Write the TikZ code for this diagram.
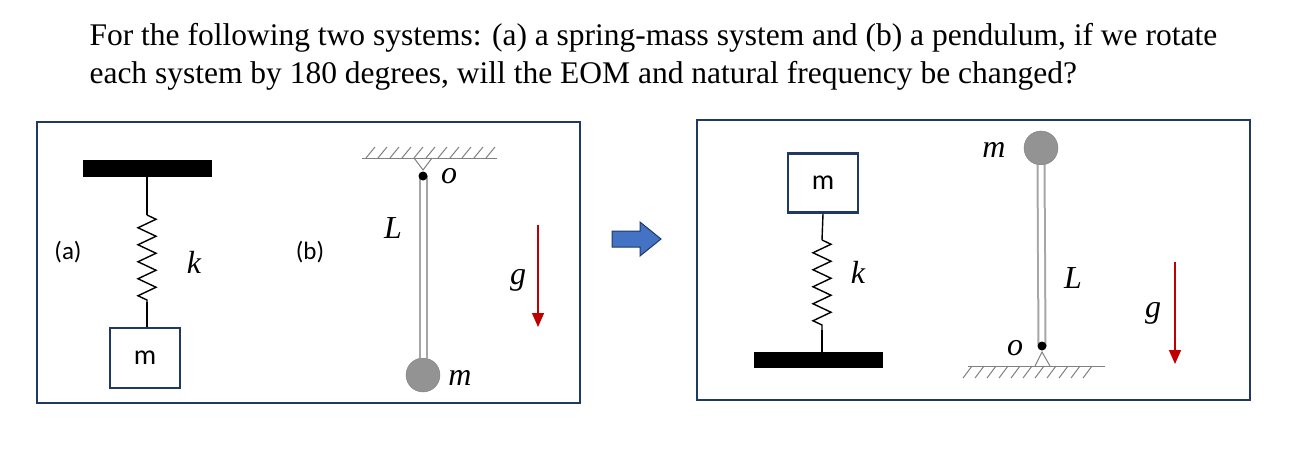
\documentclass[tikz,border=0pt]{standalone}
\usepackage{fontspec}
\setmainfont{Liberation Serif}
\newfontfamily\sansf{Carlito}
\usetikzlibrary{decorations.pathmorphing,arrows.meta}
\definecolor{navy}{HTML}{1F3864}
\definecolor{bluear}{HTML}{4472C4}
\definecolor{redar}{HTML}{C00000}
\begin{document}
\begin{tikzpicture}[x=1pt,y=-1pt,
  frame/.style={draw=navy,line width=2.4pt},
  massbox/.style={draw=navy,line width=2.8pt,minimum width=#1,inner sep=0pt,font=\sansf\fontsize{28}{28}\selectfont},
  spring/.style={decorate,decoration={zigzag,segment length=17pt,amplitude=9pt},line width=1.4pt},
  rod/.style={draw=gray!70,line width=9pt,postaction={draw=white,line width=5pt}},
  bob/.style={circle,fill=gray!85!white,draw=gray,minimum size=34pt,inner sep=0pt},
  lab/.style={font=\itshape\fontsize{32}{32}\selectfont},
  lbl/.style={font=\sansf\fontsize{25}{25}\selectfont},
  garrow/.style={draw=redar,line width=1.4pt,-{Triangle[length=14pt,width=12pt]}},
  hl/.style={draw=gray,line width=1pt}]
\useasboundingbox (0,0) rectangle (1312,464);
\node[anchor=west,align=left,font=\fontsize{31.5}{38}\selectfont] (title) at (86,57)
 {For the following two systems: (a) a spring-mass system and (b) a pendulum, if we rotate\\each system by 180 degrees, will the EOM and natural frequency be changed?};
% left
\draw[frame] (37,122) rectangle (580,403);
\fill (83,160) rectangle (212,177);
\coordinate (s1) at (147,177);
\node[massbox=70pt,minimum height=60pt] (m1) at (145,358) {m};
\coordinate (z1) at (147,215); \coordinate (z2) at (147,302);
\draw[line width=1.4pt] (s1) -- (z1); \draw[spring] (z1) -- (z2); \draw[line width=1.4pt] (z2) -- (m1.north -| z2);
\node[lbl] (la) at (68,252) {(a)};
\node[lab] (k1) at (194,262) {k};
\node[lbl] (lb) at (310,252) {(b)};
\draw[hl] (362,158) -- (497,158);
\foreach \x in {366,378,...,494} \draw[hl] (\x,158) -- (\x+9,147);
\draw[hl] (414,158) -- (423,170) -- (432,158);
\coordinate (p1) at (423,176);
\node[bob] (b1) at (423,375) {};
\draw[rod] (p1) -- (b1.north);
\fill (p1) circle (4.5);
\node[lab] at (449,176) {o};
\node[lab] at (393,228) {L};
\node[lab] at (460,378) {m};
\node[lab] at (518,280) {g};
\coordinate (ga) at (538,225); \coordinate (gb) at (538,327);
\draw[garrow] (ga) -- (gb);
% arrow
\coordinate (arr) at (636,239);
\draw[navy,fill=bluear,line width=1pt] (612,231) -- (640,231) -- (640,222) -- (661,239) -- (640,256) -- (640,247) -- (612,247) -- cycle;
% right
\draw[frame] (697,120) rectangle (1250,400);
\node[massbox=70pt,minimum height=59pt] (m2) at (823,183) {m};
\fill (754,352) rectangle (883,368);
\coordinate (y1) at (822,240); \coordinate (y2) at (822,330);
\draw[line width=1.4pt] (m2.south) -- (y1); \draw[spring] (y1) -- (y2); \draw[line width=1.4pt] (y2) -- (822,352);
\node[lab] (k2) at (858,272) {k};
\draw[hl] (968,366) -- (1105,366);
\foreach \x in {972,984,...,1100} \draw[hl] (\x,366) -- (\x-9,378);
\draw[hl] (1035,366) -- (1042,352) -- (1050,366);
\coordinate (p2) at (1042,346);
\node[bob] (b2) at (1041,148) {};
\draw[rod] (b2.south) -- (p2);
\fill (p2) circle (4.5);
\node[lab] at (1015,348) {o};
\node[lab] at (994,150) {m};
\node[lab] at (1073,278) {L};
\node[lab] at (1153,313) {g};
\coordinate (gc) at (1175,262); \coordinate (gd) at (1175,364);
\draw[garrow] (gc) -- (gd);
\end{tikzpicture}
\end{document}
